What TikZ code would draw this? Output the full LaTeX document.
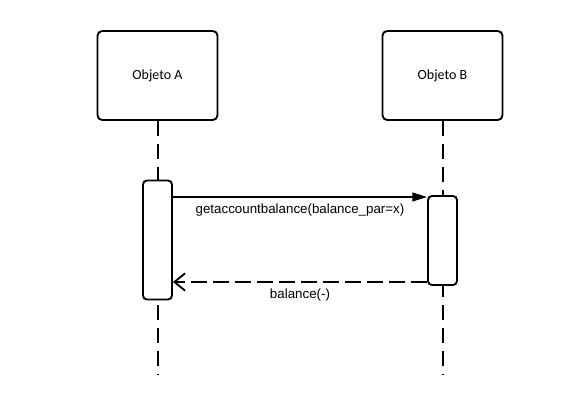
\documentclass[tikz,border=0pt]{standalone}
\usepackage{fontspec}
\setmainfont{Liberation Sans}
\newfontfamily\boxfont{Carlito}
\usetikzlibrary{arrows.meta}
\begin{document}
\begin{tikzpicture}[x=0.75pt,y=-0.75pt,
  objbox/.style={draw,line width=1.4pt,rounded corners=3.5pt,minimum width=120*0.75pt,minimum height=89*0.75pt,inner sep=0pt,font=\boxfont\fontsize{10.5}{12}\selectfont},
  actbox/.style={draw,fill=white,line width=1.4pt,rounded corners=3pt,minimum width=29*0.75pt,inner sep=0pt},
  lifeline/.style={line width=1.5pt,dash pattern=on 11.25pt off 6pt},
  msg/.style={font=\fontsize{10}{12}\selectfont},
]
\useasboundingbox (0,0) rectangle (584,409);
\node[objbox] (A) at (157.5,75.5) {Objeto A};
\node[objbox] (B) at (442.5,75.5) {Objeto B};
\coordinate (Aend) at (157.5,375);
\coordinate (Bend) at (442.5,375);
\draw[lifeline] (A.south) -- (Aend);
\draw[lifeline] (B.south) -- (Bend);
\node[actbox,minimum height=119*0.75pt] (actA) at (157.5,240) {};
\node[actbox,minimum height=89*0.75pt] (actB) at (442.5,240.5) {};
\coordinate (callS) at (actA.east |- 0,197);
\coordinate (callE) at (actB.west |- 0,197);
\draw[line width=1.4pt,-{Triangle[length=11pt,width=6.5pt]}] (callS) -- node[msg,below=1pt] {getaccountbalance(balance\_par=x)} (callE);
\coordinate (retS) at (actB.west |- 0,282);
\coordinate (retE) at (actA.east |- 0,282);
\draw[line width=1.4pt,dash pattern=on 12pt off 4.5pt,-{Straight Barb[length=8pt,width=13pt,line width=1.4pt]}] (retS) -- node[msg,below=1pt] {balance(-)} (retE);
\end{tikzpicture}
\end{document}
